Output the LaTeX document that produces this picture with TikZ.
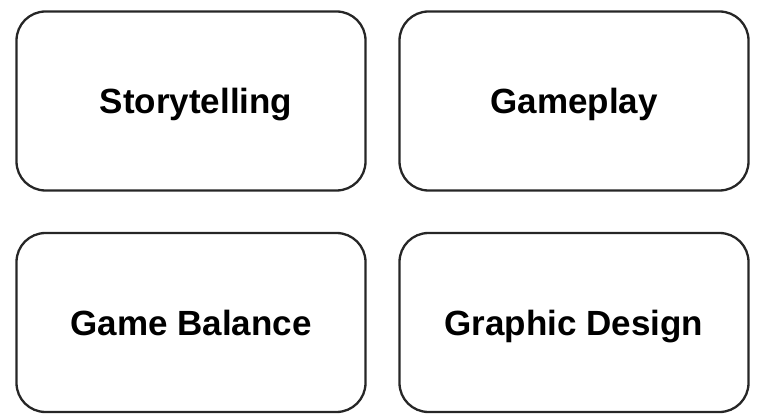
\documentclass[tikz,border=0pt]{standalone}
\usepackage{fontspec}
\setmainfont{Liberation Sans}
\begin{document}
\begin{tikzpicture}[x=1pt,y=1pt,
  cardbox/.style={draw=black!85, line width=2.3pt, rounded corners=29pt, minimum width=349pt, minimum height=179pt, inner sep=0pt, text height=25pt, text depth=0pt, font=\fontsize{35}{38}\selectfont\bfseries, text=black}]
\useasboundingbox (0,0) rectangle (776,418);
\node[cardbox] (story) at (191,317) {\hspace*{10pt}Storytelling};
\node[cardbox] (play) at (574,317) {Gameplay};
\node[cardbox] (balance) at (191,95.5) {Game Balance};
\node[cardbox] (graphic) at (574,95.5) {Graphic Design};
\end{tikzpicture}
\end{document}
